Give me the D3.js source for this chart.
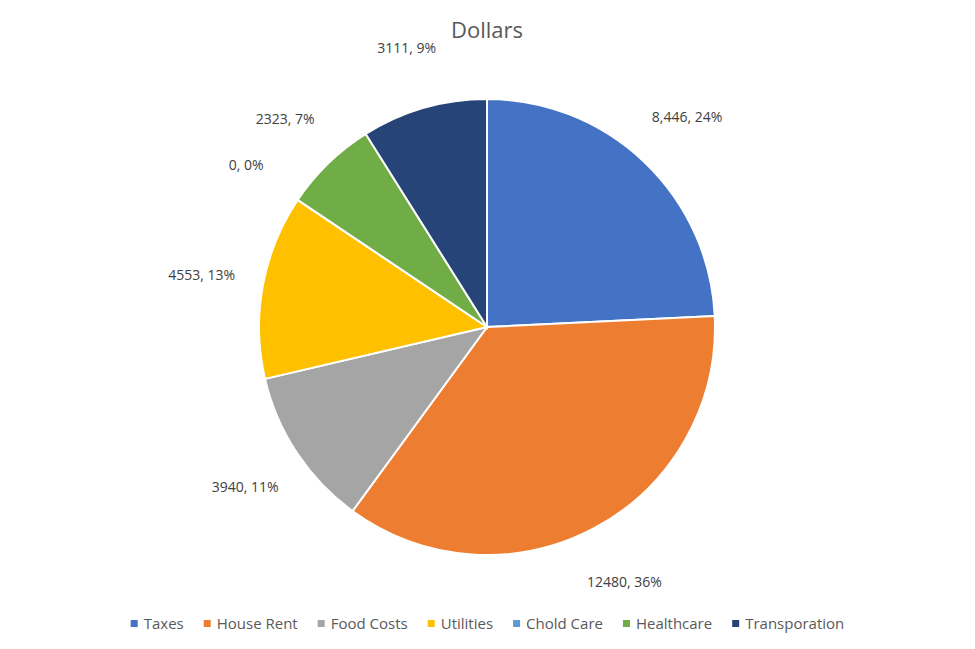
<!DOCTYPE html>
<html><head><meta charset="utf-8">
<script src="https://cdn.jsdelivr.net/npm/d3@7"></script>
<style>body{margin:0;background:#fff;font-family:"Open Sans",sans-serif;}</style>
</head><body><svg id="chart" width="975" height="649"></svg>
<script>
const categories = ["Taxes", "House Rent", "Food Costs", "Utilities", "Chold Care", "Healthcare", "Transporation"];
const values = [8446, 12480, 3940, 4553, 0, 2323, 3111];
const valueLabels = ["8,446", "12480", "3940", "4553", "0", "2323", "3111"];
const colors = ["#4472C4", "#ED7D31", "#A5A5A5", "#FFC000", "#5B9BD5", "#70AD47", "#264478"];

const svg = d3.select("#chart");
const cx = 487, cy = 327, r = 228;
const total = d3.sum(values);

svg.append("text").attr("x", 487).attr("y", 38).attr("text-anchor", "middle")
  .style("font-size", "22px").style("fill", "#595959").text("Dollars");

const pie = d3.pie().value(d => d).sort(null);
const arcs = pie(values);
const arc = d3.arc().innerRadius(0).outerRadius(r);
const labelArc = d3.arc().innerRadius(290).outerRadius(290);

const g = svg.append("g").attr("transform", `translate(${cx},${cy})`);
g.selectAll("path").data(arcs).join("path")
  .attr("d", arc).attr("fill", (d, i) => colors[i])
  .attr("stroke", "#fff").attr("stroke-width", 2);

g.selectAll("text").data(arcs).join("text")
  .attr("transform", d => `translate(${labelArc.centroid(d)})`)
  .attr("text-anchor", "middle").attr("dy", "0.35em")
  .style("font-size", "14px").style("fill", "#404040")
  .text((d, i) => `${valueLabels[i]}, ${Math.round(values[i] / total * 100)}%`);

// legend
const legend = svg.append("g");
let x = 0;
categories.forEach((c, i) => {
  const item = legend.append("g").attr("transform", `translate(${x},0)`);
  item.append("rect").attr("x", 0).attr("y", -4).attr("width", 7).attr("height", 7).attr("fill", colors[i]);
  const t = item.append("text").attr("x", 13).attr("y", 0).attr("dy", "0.35em")
    .style("font-size", "15px").style("fill", "#595959").text(c);
  x += 13 + t.node().getComputedTextLength() + 20;
});
legend.attr("transform", `translate(${(975 - (x - 20)) / 2},624)`);
</script></body></html>
